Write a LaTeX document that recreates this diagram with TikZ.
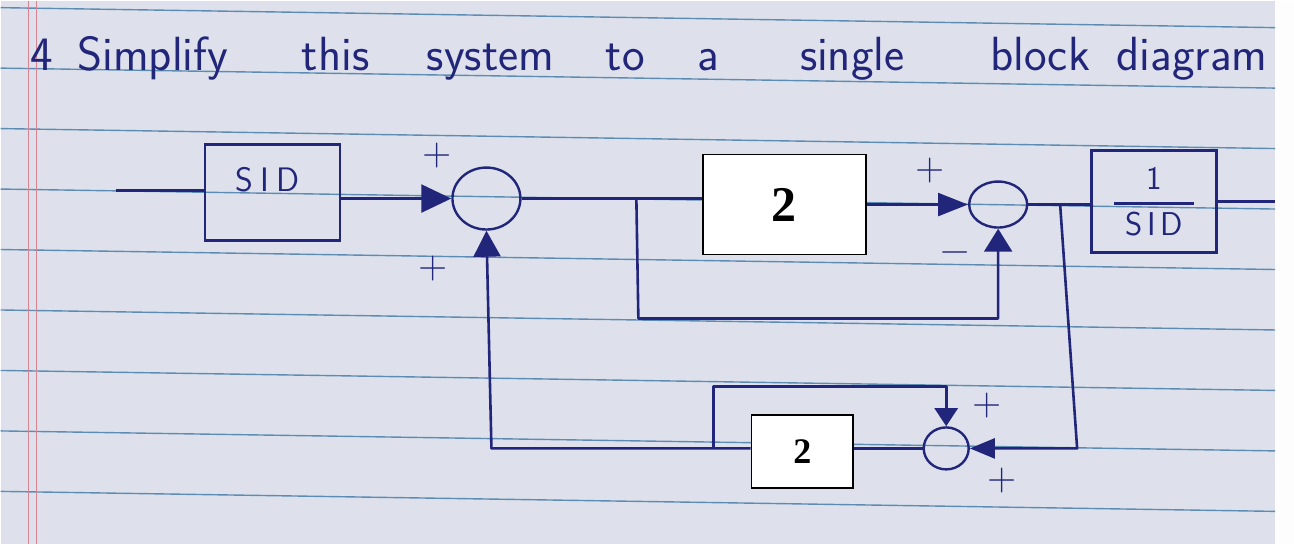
\documentclass[tikz,border=0pt]{standalone}
\usepackage{fontspec}
\newfontfamily\printfont{Liberation Serif}
\usetikzlibrary{arrows.meta,shapes.geometric}
\definecolor{paper}{RGB}{222,225,236}
\definecolor{rule}{RGB}{92,140,178}
\definecolor{margin}{RGB}{214,132,146}
\definecolor{ink}{RGB}{34,38,122}

\begin{document}
\begin{tikzpicture}[x=1pt, y=-1pt,
    pen/.style={draw=ink, line width=2.6pt, line join=round},
    arr/.style n args={2}{pen, -{Triangle[length=#1pt, width=#2pt]}},
    hand/.style={text=ink, inner sep=0pt, font=\sffamily\fontsize{#1}{#1}\selectfont},
    hand/.default=30,
    hbox/.style={draw=ink, line width=2.8pt, inner sep=0pt},
    pbox/.style={draw=black, fill=white, line width=1.6pt, inner sep=0pt},
    sumj/.style={ellipse, draw=ink, line width=2.4pt, inner sep=0pt},
    sgn/.style={hand=40}]
  \fill[paper] (0,0) rectangle (1294,544);
  \fill[white!94!paper] (1275,0) rectangle (1294,544);
  \foreach \y in {7,67.5,...,492}
    \draw[rule, line width=1.4pt] (0,\y) -- (1275,\y+20);
  \foreach \x in {28,36}
    \draw[margin, line width=1.3pt] (\x,0) -- (\x,544);

  \foreach \w/\x in {4/41, Simplify/152, this/335, system/490, to/625, a/708,
                     single/852, block/1040, diagram/1192}
    \node[hand=48, anchor=base] (w\x) at (\x,70) {\w};

  \coordinate (inp) at (115,190);
  \node[hbox, minimum width=135pt, minimum height=96pt] (sid) at (272,192) {};
  \node[hand=34] (sidtxt) at (267,179) {S\kern7pt I\kern7pt D};
  \node[sumj, minimum width=68pt, minimum height=62pt] (sum1) at (486,198) {};
  \node[pbox, minimum width=163pt, minimum height=100pt,
        font=\printfont\bfseries\fontsize{50}{50}\selectfont] (g1) at (784,204) {2};
  \node[sumj, minimum width=58pt, minimum height=46pt] (sum2) at (998,204) {};
  \node[hbox, minimum width=125pt, minimum height=102pt, text=ink, align=center,
        font=\sffamily\fontsize{33}{30}\selectfont] (inv) at (1154,201)
        {1\\[-14pt]\rule{80pt}{3pt}\\[0pt]S\kern5pt I\kern5pt D};
  \coordinate (outp) at (1275,201);
  \node[pbox, minimum width=102pt, minimum height=73pt,
        font=\printfont\bfseries\fontsize{36}{36}\selectfont] (g2) at (802,451) {2};
  \node[sumj, minimum width=45pt, minimum height=42pt] (sum3) at (946,448) {};

  \coordinate (tk1) at (636,198);
  \coordinate (fb1) at (638,318);
  \coordinate (tk2) at (1060,204);
  \coordinate (fb2) at (1077,448);
  \coordinate (j1) at (713,448);
  \coordinate (tp) at (713,386);
  \coordinate (fb3) at (491,448);

  \draw[pen] (inp) -- (inp -| sid.west);
  \draw[arr={30}{28}] (sid.east |- sum1) -- (sum1.west);
  \draw[pen] (sum1.east) -- (tk1) -- (tk1 -| g1.west);
  \draw[arr={23}{28}] (tk1) -- (fb1) -| (sum2.south);
  \draw[arr={30}{23}] (g1.east |- sum2) -- (sum2.west);
  \draw[pen] (sum2.east) -- (tk2) -- (tk2 -| inv.west);
  \draw[pen] (inv.east) -- (outp);
  \draw[arr={25}{20}] (tk2) -- (fb2) -- (sum3.east);
  \draw[arr={18}{23}] (j1) -- (tp) -| (sum3.north);
  \draw[pen] (g2.east |- sum3) -- (sum3.west);
  \draw[arr={26}{27}] (g2.west |- fb3) -- (fb3) -- (sum1.south);

  \node[sgn] (p1) at (437,155) {+};
  \node[sgn] (p2) at (433,268) {+};
  \node[sgn] (p3) at (930,170) {+};
  \node[sgn] (m1) at (955,257) {−};
  \node[sgn] (p4) at (987,405) {+};
  \node[sgn] (p5) at (1002,480) {+};
\end{tikzpicture}
\end{document}
